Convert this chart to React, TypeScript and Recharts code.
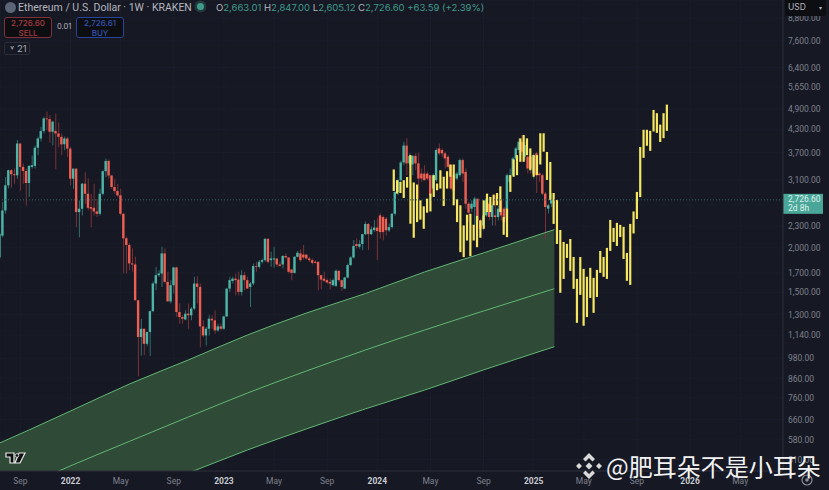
import { Area, Bar, CartesianGrid, Cell, ComposedChart, Line, ReferenceLine, XAxis, YAxis } from 'recharts';

const UI_FONT = 'Inter, Roboto, sans-serif';
const AXIS_FONT = 'Roboto, sans-serif';
const UP = '#4db5a7';
const DOWN = '#ee5f52';
const UP_WICK = '#2f6f6c';
const DOWN_WICK = '#7a3338';

// weekly candles (first one sits on the left edge)
const firstWeek = -24;
const candleOpen = [
  1882, 2165, 2546, 2994, 3300, 3215, 3195, 3922, 3372, 3285,
  3040, 3372, 3395, 3815, 4050, 4250, 4610, 4590, 4230, 4255,
  4185, 4095, 3900, 4050, 3795, 3125, 3335, 2520, 2575, 3026,
  2836, 2602, 2590, 2530, 2492, 2836, 3280, 3505, 3190, 2962,
  2886, 2806, 2492, 2127, 2037, 1809, 1797, 1426, 1125, 1187,
  1077, 1162, 1330, 1589, 1677, 1695, 1930, 1606, 1416, 1572,
  1763, 1322, 1280, 1260, 1308, 1295, 1352, 1589, 1555, 1205,
  1137, 1187, 1266, 1253, 1174, 1205, 1187, 1285, 1538, 1615,
  1640, 1630, 1505, 1677, 1624, 1555, 1589, 1778, 1770, 1828,
  1848, 2120, 1848, 1856, 1868, 1797, 1797, 1898, 1880, 1740,
  1702, 1888, 1930, 1915, 1915, 1868, 1848, 1828, 1828, 1677,
  1640, 1624, 1606, 1572, 1566, 1725, 1624, 1538, 1652, 1790,
  1880, 2050, 2015, 2050, 2185, 2334, 2185, 2245, 2280, 2466,
  2440, 2414, 2240, 2287, 2493, 2869, 3095, 3470, 3870, 3450,
  3425, 3620, 3450, 3230, 3230, 3230, 3197, 2932, 3095, 3800,
  3760, 3680, 3600, 3411, 3197, 3128, 3197, 3523, 3267, 2660,
  2576, 2604, 2748, 2388, 2312, 2466, 2660, 2440, 2466, 2440,
  2718, 2576, 2414, 3061, 3197, 3561, 3760, 3967, 3600, 3600,
  3600, 3230, 3680, 3230, 3197, 2838, 2576, 2663.01,
];
const candleHigh = [
  2200, 2687, 3160, 3310, 3320, 3340, 4010, 3930, 3445, 3330,
  3410, 3630, 3870, 4095, 4370, 4660, 4820, 4713, 4540, 4755,
  4490, 4185, 4100, 4095, 3838, 3335, 3340, 2716, 3040, 3260,
  3135, 2836, 3026, 2745, 2930, 3300, 3560, 3535, 3210, 3125,
  3026, 2930, 2500, 2150, 2059, 1993, 1888, 1432, 1266, 1187,
  1165, 1335, 1610, 1770, 1732, 2015, 1993, 1714, 1624, 1770,
  1770, 1400, 1295, 1337, 1396, 1366, 1659, 1665, 1589, 1253,
  1200, 1295, 1295, 1337, 1226, 1226, 1290, 1540, 1659, 1659,
  1695, 1714, 1732, 1714, 1659, 1606, 1809, 1828, 1848, 1868,
  2127, 2127, 1950, 2015, 1868, 1828, 1910, 1930, 1880, 1748,
  1898, 1962, 1983, 2036, 1915, 1888, 1868, 1848, 1828, 1677,
  1714, 1641, 1641, 1640, 1740, 1732, 1630, 1659, 1809, 1898,
  2104, 2127, 2100, 2190, 2370, 2350, 2294, 2395, 2420, 2500,
  2466, 2440, 2340, 2510, 2880, 3128, 3510, 3967, 4054, 3680,
  3639, 3680, 3700, 3338, 3411, 3267, 3197, 3230, 3800, 3920,
  3800, 3720, 3639, 3430, 3230, 3267, 3561, 3561, 3338, 2689,
  2720, 2780, 2748, 2414, 2490, 2778, 2689, 2660, 2808, 2630,
  2748, 2604, 3230, 3338, 3600, 3840, 4054, 4143, 3967, 3639,
  3639, 3680, 3719, 3267, 3230, 2869, 2660, 2847,
];
const candleLow = [
  1860, 2142, 2492, 2940, 2950, 3026, 3125, 2886, 3026, 2630,
  2776, 3340, 3340, 3636, 3970, 4185, 4276, 3940, 3880, 3320,
  3820, 3636, 3756, 3597, 2994, 2930, 2285, 2142, 2465, 2658,
  2546, 2285, 2465, 2440, 2465, 2810, 3160, 3125, 2930, 2836,
  2776, 2465, 1695, 1695, 1732, 1714, 1426, 873, 998, 1000,
  1060, 995, 1320, 1522, 1659, 1555, 1589, 1416, 1396, 1489,
  1280, 1226, 1226, 1253, 1187, 1253, 1337, 1396, 1054, 1125,
  1065, 1137, 1187, 1149, 1165, 1174, 1180, 1280, 1505, 1589,
  1472, 1472, 1472, 1522, 1538, 1366, 1572, 1714, 1751, 1809,
  1828, 1809, 1770, 1759, 1770, 1770, 1751, 1868, 1695, 1624,
  1695, 1880, 1828, 1856, 1856, 1828, 1800, 1809, 1522, 1532,
  1606, 1589, 1530, 1560, 1555, 1606, 1515, 1532, 1645, 1778,
  1868, 1993, 1990, 1972, 2170, 1972, 2170, 2220, 1848, 2120,
  2098, 2167, 2214, 2262, 2466, 2808, 3061, 3411, 3197, 3411,
  3197, 3300, 2748, 3061, 3095, 3095, 2748, 2900, 3061, 3639,
  3600, 3338, 3338, 2900, 2880, 3095, 3165, 3061, 2576, 2362,
  2520, 2312, 2262, 2240, 2240, 2440, 2388, 2312, 2312, 2388,
  2388, 2340, 2388, 3000, 3165, 3523, 3680, 3639, 3523, 3230,
  3230, 3128, 2848, 3061, 2808, 2120, 2500, 2605.12,
];
const candleClose = [
  2189, 2546, 2994, 3300, 3215, 3195, 3922, 3372, 3285, 3040,
  3395, 3410, 3815, 4050, 4250, 4610, 4585, 4230, 4515, 4185,
  4095, 3900, 4050, 3795, 3125, 3335, 2520, 2575, 3026, 2836,
  2590, 2575, 2530, 2492, 2836, 3280, 3505, 3190, 2962, 2886,
  2806, 2492, 2127, 2037, 1809, 1797, 1426, 1125, 1187, 1077,
  1162, 1330, 1589, 1677, 1695, 1930, 1606, 1416, 1572, 1763,
  1322, 1280, 1266, 1308, 1295, 1352, 1589, 1555, 1205, 1137,
  1187, 1266, 1253, 1174, 1205, 1187, 1285, 1538, 1624, 1640,
  1624, 1505, 1677, 1624, 1538, 1589, 1778, 1770, 1828, 1848,
  2120, 1828, 1868, 1868, 1797, 1782, 1898, 1880, 1714, 1702,
  1888, 1938, 1848, 1880, 1868, 1848, 1816, 1816, 1677, 1630,
  1618, 1600, 1589, 1624, 1725, 1624, 1555, 1652, 1790, 1880,
  2025, 2025, 2050, 2185, 2334, 2185, 2255, 2280, 2230, 2214,
  2214, 2240, 2287, 2493, 2869, 3095, 3470, 3870, 3450, 3620,
  3620, 3450, 3128, 3128, 3095, 3128, 2808, 3197, 3760, 3680,
  3680, 3561, 3375, 2932, 2900, 3230, 3523, 3230, 2660, 2510,
  2660, 2748, 2388, 2262, 2466, 2748, 2440, 2632, 2440, 2576,
  2466, 2362, 3197, 3197, 3561, 3800, 3967, 3719, 3883, 3338,
  3338, 3639, 3197, 3197, 2838, 2604, 2632, 2726.6,
];

// the yellow bars pasted on top, their spacing is a little wider than a week
const projHigh = [
  3317, 3095, 3061, 3095, 3160, 3639, 3050, 3010, 2718, 2615,
  2748, 2838, 3197, 3030, 3300, 3165, 3280, 3425, 3425, 2736,
  2632, 2312, 2477, 2493, 2322, 2456, 2388, 2718, 2838, 2778,
  2820, 2850, 2975, 2440, 2576, 3197, 3540, 3639, 4054, 4143,
  4054, 3800, 3639, 3639, 4190, 4190, 3714, 3482, 2850, 2725,
  2245, 2078, 2052, 2118, 1886, 1637, 1886, 1746, 1660, 1758,
  1648, 1735, 1961, 1886, 2000, 2395, 2275, 2350, 2320, 2290,
  1936, 2334, 2530, 2870, 3835, 4285, 4285, 4255, 4870, 4770,
  4430, 4770, 5040,
];
const projLow = [
  2888, 2838, 2850, 2760, 2950, 2337, 2135, 2362, 2400, 2262,
  2510, 2530, 2778, 2900, 2932, 2620, 2932, 3165, 2632, 2362,
  1946, 1884, 2097, 1896, 2097, 2009, 2135, 2262, 2520, 2520,
  2632, 2632, 2520, 2176, 2143, 2870, 3165, 3197, 3485, 3485,
  3639, 3300, 3165, 3197, 3425, 3720, 3100, 2725, 2334, 2051,
  1497, 1637, 1874, 1724, 1535, 1233, 1477, 1210, 1280, 1448,
  1315, 1457, 1702, 1659, 1637, 1961, 2078, 2025, 2145, 1862,
  1617, 1575, 2195, 2410, 2775, 3575, 3865, 3740, 4240, 4200,
  3960, 4060, 4255,
];

// green channel
const channelWeeks = [-24, -14, 0, 20, 40, 60, 80, 100, 120, 140, 164];
const channelUpper = [568, 618, 698, 831, 971, 1140, 1314, 1490, 1712, 1936, 2250];
const channelMiddle = [404, 436, 490, 574, 672, 784, 904, 1035, 1177, 1331, 1537];
const channelLower = [294, 316, 350, 406, 468, 543, 622, 708, 799, 910, 1057];

const xTicks = [-17, 0, 17, 35, 52, 69, 87, 104, 122, 140, 157, 174, 192, 210, 227];
const xLabels = ['Sep', '2022', 'May', 'Sep', '2023', 'May', 'Sep', '2024', 'May', 'Sep', '2025', 'May', 'Sep', '2026', 'May'];
const yTicks = [8800, 7600, 6400, 5650, 4900, 4300, 3700, 3100, 2300, 2000, 1700, 1500, 1300, 1140, 980, 860, 760, 660, 580, 510];

const lastPrice = 2726.6;

const rows = candleOpen.map((open, i) => ({
  week: firstWeek + i,
  up: candleClose[i] >= open,
  wick: [candleLow[i], candleHigh[i]],
  body: [Math.min(open, candleClose[i]), Math.max(open, candleClose[i])],
  proj: i < projHigh.length ? i : null,
  projRange: i < projHigh.length ? [projLow[i], projHigh[i]] : null,
}));

const channel = channelWeeks.map((week, i) => ({
  week,
  band: [channelLower[i], channelUpper[i]],
  upper: channelUpper[i],
  middle: channelMiddle[i],
  lower: channelLower[i],
}));

function WeekTick({ x, payload }: any) {
  const label = xLabels[xTicks.indexOf(payload.value)];
  const isYear = /^\d+$/.test(label);
  return (
    <text x={x} y={484} textAnchor="middle" fontSize={8.5} fontFamily={AXIS_FONT} fontWeight={isYear ? 700 : 400} fill={isYear ? '#c9cbd1' : '#7f828c'}>
      {label}
    </text>
  );
}

function PriceTag({ viewBox }: any) {
  const x = viewBox.x + viewBox.width;
  const y = viewBox.y;
  return (
    <g fontFamily={AXIS_FONT} fontSize={8.5} fill="#dff3ef">
      <rect x={x} y={y - 6} width={40} height={20} fill="#4aa698" />
      <text x={x + 5} y={y + 2}>2,726.60</text>
      <text x={x + 5} y={y + 11}>2d 8h</text>
    </g>
  );
}

function Legend() {
  const grey = '#b6b8bf';
  const value = '#3f9c8c';
  const boxBase: React.CSSProperties = {
    position: 'absolute', top: 17, width: 48, height: 21, borderRadius: 3, background: '#0d0e12',
    textAlign: 'center', fontSize: 8, lineHeight: '9.5px', fontWeight: 500, boxSizing: 'border-box', paddingTop: 1,
  };
  return (
    <>
      <div style={{ position: 'absolute', left: 5, top: 2, width: 11, height: 11, borderRadius: 6, background: '#5c6478' }} />
      <div style={{ position: 'absolute', left: 18, top: 0, fontFamily: AXIS_FONT, fontSize: 10.5, lineHeight: '15px', color: '#b4b6bd', whiteSpace: 'nowrap' }}>
        Ethereum / U.S. Dollar · 1W · KRAKEN
      </div>
      <div style={{ position: 'absolute', left: 197, top: 3, width: 7, height: 7, borderRadius: 4, background: '#3f9c8c', boxShadow: '0 0 0 2.5px #233a3b' }} />
      <div style={{ position: 'absolute', left: 216, top: 0, fontSize: 9.5, lineHeight: '15px', color: grey, whiteSpace: 'nowrap' }}>
        O<span style={{ color: value }}>2,663.01</span> H<span style={{ color: value }}>2,847.00</span>{' '}
        L<span style={{ color: value }}>2,605.12</span> C<span style={{ color: value }}>2,726.60</span>{' '}
        <span style={{ color: value }}>+63.59 (+2.39%)</span>
      </div>
      <div style={{ ...boxBase, left: 4, border: '1px solid #80303a', color: '#a63a3f' }}>2,726.60<br />SELL</div>
      <div style={{ position: 'absolute', left: 57, top: 22, fontSize: 7.5, color: grey }}>0.01</div>
      <div style={{ ...boxBase, left: 76, border: '1px solid #2b449c', color: '#3353b0' }}>2,726.61<br />BUY</div>
      <div style={{ position: 'absolute', left: 4, top: 42, width: 26, height: 13, boxSizing: 'border-box', border: '1px solid #2a2d38', borderRadius: 2, color: '#a9abb3', fontSize: 9.5, lineHeight: '11px', paddingLeft: 5 }}>
        ˅ 21
      </div>
      <div style={{ position: 'absolute', left: 785, top: 0, width: 41, height: 16, boxSizing: 'border-box', background: '#0d0e12', borderRadius: '0 0 3px 3px', color: '#b4b6bd', fontSize: 8.5, lineHeight: '15px', paddingLeft: 3 }}>
        USD
        <span style={{ position: 'absolute', right: 4, top: 0, fontSize: 6 }}>▾</span>
      </div>
      <svg style={{ position: 'absolute', left: 5, top: 452 }} width={21} height={13} viewBox="0 0 21 13">
        <path d="M1 1H9V11H5V5H1Z M14 1H20L15 11H10Z" fill="#0e0f13" stroke="#e8e8e8" strokeWidth={1.2} />
        <circle cx={12} cy={3.5} r={1.8} fill="#0e0f13" stroke="#e8e8e8" strokeWidth={0.8} />
      </svg>
      <svg style={{ position: 'absolute', left: 800, top: 473 }} width={14} height={14} viewBox="0 0 14 14">
        <circle cx={7} cy={7} r={5} fill="none" stroke="#8c8e96" strokeWidth={1.2} />
        <circle cx={7} cy={7} r={1.8} fill="#8c8e96" />
      </svg>
      <svg style={{ position: 'absolute', left: 575, top: 452 }} width={28} height={28} viewBox="0 0 28 28" fill="#d9d9d9">
        <path d="M14 1L20 7L17.5 9.5L14 6L10.5 9.5L8 7Z" />
        <path d="M14 27L20 21L17.5 18.5L14 22L10.5 18.5L8 21Z" />
        <path d="M1 14L4 11L7 14L4 17Z M21 14L24 11L27 14L24 17Z M14 10.5L17.5 14L14 17.5L10.5 14Z" />
      </svg>
      <div style={{ position: 'absolute', left: 606, top: 450, fontFamily: '"Noto Sans CJK SC", sans-serif', fontSize: 24, lineHeight: '32px', color: '#f2f2f2', whiteSpace: 'nowrap' }}>
        @肥耳朵不是小耳朵
      </div>
    </>
  );
}

export default function App() {
  return (
    <div style={{ position: 'absolute', left: 0, top: 0, width: 829, height: 490, overflow: 'hidden', background: '#161824', fontFamily: UI_FONT }}>
      <ComposedChart width={829} height={490} data={rows} margin={{ top: 0, right: 0, bottom: 0, left: 0 }}>
        <CartesianGrid xAxisId="week" stroke="#1b1e2a" />
        <XAxis xAxisId="candleBody" dataKey="week" type="number" domain={[-23.9, 241.5]} allowDataOverflow hide height={0} />
        <XAxis xAxisId="projected" dataKey="proj" type="number" domain={[-118.1, 117]} allowDataOverflow hide height={0} />
        <XAxis
          xAxisId="week"
          dataKey="week"
          type="number"
          domain={[-23.9, 241.5]}
          allowDataOverflow
          ticks={xTicks}
          height={19}
          interval={0}
          tickSize={0}
          tick={<WeekTick />}
          axisLine={{ stroke: '#2a2d38' }}
        />
        <YAxis
          orientation="right"
          scale="log"
          domain={[474, 9900]}
          allowDataOverflow
          ticks={yTicks}
          interval={0}
          width={46}
          tickSize={0}
          tickMargin={5}
          tick={{ fontSize: 8.5, fill: '#7f828c', fontFamily: AXIS_FONT }}
          tickFormatter={(v: number) => v.toLocaleString('en-US', { minimumFractionDigits: 2 })}
          axisLine={{ stroke: '#2a2d38' }}
        />
        <Area xAxisId="week" data={channel} dataKey="band" type="monotone" stroke="none" fill="#2f4a36" fillOpacity={1} dot={false} activeDot={false} isAnimationActive={false} />
        <Line xAxisId="week" data={channel} dataKey="upper" type="monotone" stroke="#62b774" strokeWidth={1} dot={false} activeDot={false} isAnimationActive={false} />
        <Line xAxisId="week" data={channel} dataKey="middle" type="monotone" stroke="#62b774" strokeWidth={1} dot={false} activeDot={false} isAnimationActive={false} />
        <Line xAxisId="week" data={channel} dataKey="lower" type="monotone" stroke="#62b774" strokeWidth={1} dot={false} activeDot={false} isAnimationActive={false} />
        <ReferenceLine xAxisId="week" y={lastPrice} stroke="#356a66" strokeDasharray="1 2" label={<PriceTag />} />
        <Bar xAxisId="week" dataKey="wick" barSize={1} isAnimationActive={false}>
          {rows.map((row) => (
            <Cell key={row.week} fill={row.up ? UP_WICK : DOWN_WICK} />
          ))}
        </Bar>
        <Bar xAxisId="candleBody" dataKey="body" barSize={2.4} isAnimationActive={false}>
          {rows.map((row) => (
            <Cell key={row.week} fill={row.up ? UP : DOWN} />
          ))}
        </Bar>
        <Bar xAxisId="projected" dataKey="projRange" barSize={2.2} fill="#f6e763" isAnimationActive={false} />
      </ComposedChart>
      <Legend />
    </div>
  );
}
